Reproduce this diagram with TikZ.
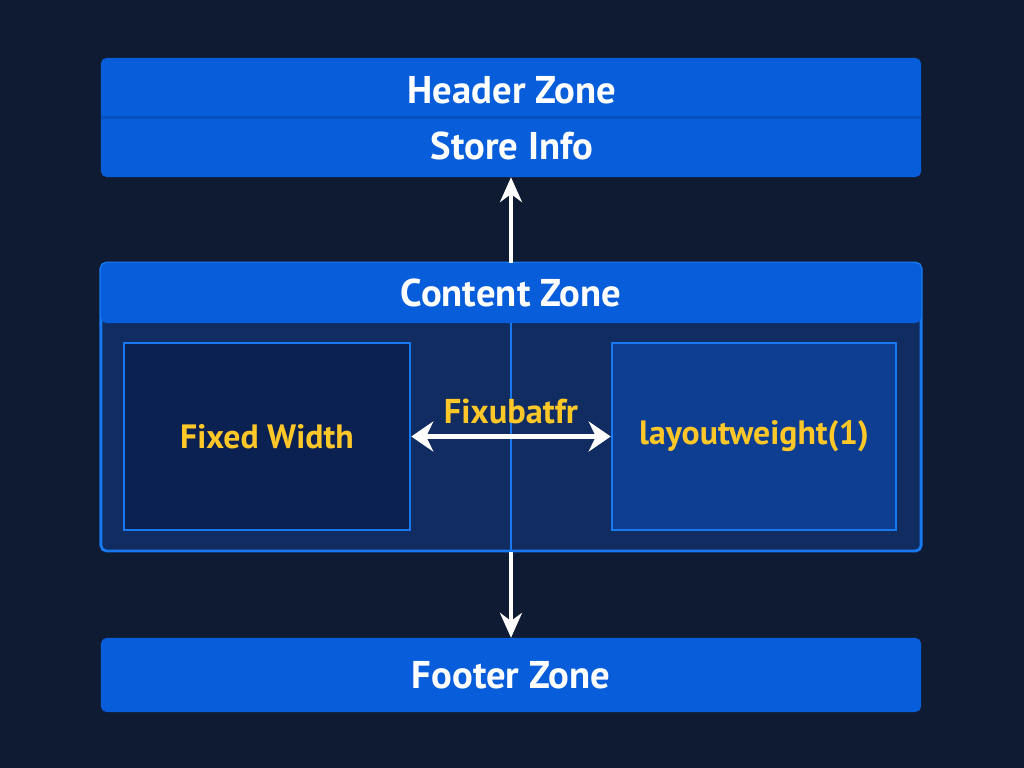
\documentclass[tikz,border=0pt]{standalone}
\usepackage{fontspec}
\setsansfont{PT Sans}
\usetikzlibrary{arrows.meta, positioning}
\definecolor{bgcolor}{RGB}{15, 27, 51}
\definecolor{zonecolor}{RGB}{8, 94, 218}
\definecolor{bodycolor}{RGB}{16, 44, 96}
\definecolor{fixedcolor}{RGB}{10, 33, 82}
\definecolor{weightcolor}{RGB}{14, 62, 145}
\definecolor{edgecolor}{RGB}{24, 120, 240}
\definecolor{dividecolor}{RGB}{6, 80, 190}
\definecolor{labelcolor}{RGB}{255, 200, 40}
\tikzset{
    font=\sffamily\bfseries,
    zone/.style = {
        rectangle, rounded corners=4pt, minimum width=20.5cm, fill=zonecolor,
        inner sep=0pt
    },
    zonetext/.style = {text=white, font=\sffamily\bfseries\fontsize{27.5}{32}\selectfont},
    body/.style = {
        rectangle, rounded corners=4pt, minimum width=20.5cm, minimum height=7.2cm,
        fill=bodycolor, draw=edgecolor, line width=2pt, inner sep=0pt
    },
    panel/.style = {
        rectangle, minimum height=4.675cm, draw=edgecolor, line width=1.8pt,
        text=labelcolor, font=\sffamily\bfseries\fontsize{24}{28}\selectfont
    },
    arrow/.style = {-{Stealth[length=0.62cm,width=0.55cm]}, line width=2.8pt, draw=white},
    twoway/.style = {{Stealth[length=0.55cm,width=0.75cm]}-{Stealth[length=0.55cm,width=0.75cm]}, line width=3pt, draw=white}
}
\begin{document}
\begin{tikzpicture}[x=0.025cm, y=-0.025cm]
\useasboundingbox[fill=bgcolor] (0,0) rectangle (1024,768);
% Nodes
\node[zone, minimum height=2.975cm] (header) at (511,117.5) {};
\draw[dividecolor, line width=1.5pt] (header.west) -- (header.east);
\node[zonetext] (headertext) at (512,90) {Header Zone};
\node[zonetext] (storeinfo) at (512,146) {Store Info};
\node[body] (content) at (511,407) {};
\node[zone, minimum height=1.5cm, zonetext] (contentbar) at (511,293) {Content Zone};
\draw[edgecolor, line width=1pt] (contentbar.south) -- (content.south);
\node[panel, minimum width=7.15cm, fill=fixedcolor] (fixed) at (267,436.5) {Fixed Width};
\node[panel, minimum width=7.1cm, fill=weightcolor] (weight) at (754,436.5) {layoutweight(1)};
\node[zone, minimum height=1.85cm, zonetext] (footer) at (511,675) {Footer Zone};
% Arrows
\draw[arrow] (contentbar.north) -- (header.south);
\draw[arrow] (content.south) -- (footer.north);
\draw[twoway] (fixed.east) -- node[above=4pt, text=labelcolor, font=\sffamily\bfseries\fontsize{24.5}{28}\selectfont] (gap) {Fixubatfr} (weight.west);
\end{tikzpicture}
\end{document}
